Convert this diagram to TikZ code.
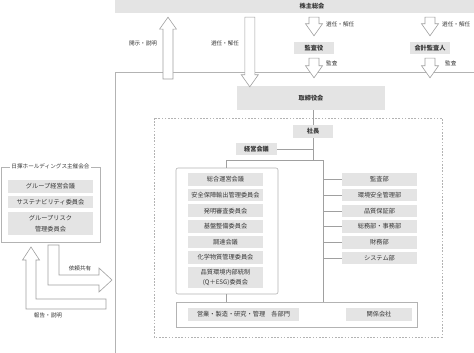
\documentclass[tikz,border=0pt]{standalone}
\usepackage{fontspec}
\setmainfont{Noto Sans CJK JP}
\usepackage{tikz}
\usetikzlibrary{calc,arrows.meta}
\definecolor{boxGray}{RGB}{228,228,228}
\definecolor{lineGray}{RGB}{160,160,160}
\definecolor{inkGray}{RGB}{55,55,55}

% hollow block arrows: shaft starts at #1, tip at #2
\newcommand{\hollowdown}[2]{%
  \draw[hollow] let \p1=(#1), \p2=(#2) in
    (\x2-5pt,\y1) -- (\x2+5pt,\y1) -- (\x2+5pt,\y2+12pt) -- (\x2+8.5pt,\y2+12pt)
    -- (\x2,\y2) -- (\x2-8.5pt,\y2+12pt) -- (\x2-5pt,\y2+12pt) -- cycle;}
\newcommand{\hollowup}[2]{%
  \draw[hollow] let \p1=(#1), \p2=(#2) in
    (\x2-5pt,\y1) -- (\x2+5pt,\y1) -- (\x2+5pt,\y2-12pt) -- (\x2+8.5pt,\y2-12pt)
    -- (\x2,\y2) -- (\x2-8.5pt,\y2-12pt) -- (\x2-5pt,\y2-12pt) -- cycle;}

\begin{document}
\begin{tikzpicture}[x=1pt,y=-1pt,
    unit/.style={fill=boxGray, inner sep=0pt, text=inkGray, align=center,
      font=\fontsize{6.2}{10.5}\selectfont},
    lead/.style={unit, font=\fontsize{6.2}{10.5}\selectfont\bfseries},
    frame/.style={draw=lineGray!80, line width=0.6pt},
    wire/.style={draw=lineGray, line width=0.8pt},
    hollow/.style={draw=lineGray, fill=white, line width=0.6pt},
    note/.style={text=inkGray, inner sep=1pt, font=\fontsize{5.6}{7}\selectfont},
    >=Stealth
  ]
  \useasboundingbox (0,0) rectangle (474,353);

  % company boundary and executive area
  \draw[frame] (115,353) -- (115,72) -- (474,72);
  \draw[frame, dash pattern=on 1.6pt off 1.6pt] (154,118) rectangle (442,337);

  % top level
  \node[lead, minimum width=394pt, minimum height=13pt] (kabunushi) at (312,6.5) {株主総会};
  \node[lead, minimum width=40pt, minimum height=12pt] (kansayaku) at (314,48) {監査役};
  \node[lead, minimum width=40pt, minimum height=12pt] (kaikei) at (430,48) {会計監査人};
  \node[lead, minimum width=148pt, minimum height=24pt] (torishimari) at (311,98) {取締役会};
  \node[lead, minimum width=40pt, minimum height=13pt] (shacho) at (313,131.5) {社長};
  \node[lead, minimum width=41pt, minimum height=12pt] (keiei) at (256.5,149) {経営会議};

  \coordinate (discl) at (168,79);
  \coordinate (elect) at ($(torishimari.north west)+(13,1)$);

  \hollowdown{$(kansayaku.north |- kabunushi.south)+(0,4)$}{$(kansayaku.north)+(0,-6)$}
  \hollowdown{$(kansayaku.south)+(0,4)$}{$(kansayaku.south |- torishimari.north)+(0,-8)$}
  \hollowdown{$(kaikei.north |- kabunushi.south)+(0,4)$}{$(kaikei.north)+(0,-6)$}
  \hollowdown{$(kaikei.south)+(0,4)$}{$(kaikei.south |- torishimari.north)+(0,-8)$}
  \hollowdown{$(elect |- kabunushi.south)+(0,4)$}{elect}
  \hollowup{discl}{$(discl |- kabunushi.south)+(0,4)$}

  \node[note] (lbl-disc) at (143,43) {開示・説明};
  \node[note] (lbl-elect) at (225,43) {選任・解任};
  \node[note, anchor=west] (lbl-ka1) at (325,24) {選任・解任};
  \node[note, anchor=west] (lbl-ka2) at (325,63) {監査};
  \node[note, anchor=west] (lbl-kk1) at (441,24) {選任・解任};
  \node[note, anchor=west] (lbl-kk2) at (444,63) {監査};

  % committees
  \node[frame, fill=white, rounded corners=2pt, minimum width=102pt, minimum height=126pt] (cmtframe) at (227,231) {};
  \foreach \name [count=\i] in {総合運営会議,安全保障輸出管理委員会,発明審査委員会,基盤整備委員会,調達会議,化学物質管理委員会}
    \node[unit, minimum width=75pt, minimum height=12.5pt] (cmt\i) at (225.5,{179.5+15.6*(\i-1)}) {\name};
  \node[unit, minimum width=75pt, minimum height=21pt] (cmt7) at (225.5,277.5) {品質環境内部統制\\(Q＋ESG)委員会};

  % operating units
  \node[frame, minimum width=241pt, minimum height=25pt] (base) at (296.5,314.5) {};
  \node[unit, minimum width=111pt, minimum height=13pt] (divisions) at (243.5,314.5) {営業・製造・研究・管理　各部門};
  \node[unit, minimum width=66pt, minimum height=13pt] (affiliates) at (379,314.5) {関係会社};

  % trunk
  \coordinate (trunk) at (323,160);
  \coordinate (leftdrop) at (226,160);
  \draw[wire] (torishimari.south -| shacho) -- (shacho.north);
  \draw[wire] (shacho.south) -- (shacho.south |- trunk);
  \draw[wire] (keiei.east) -- (keiei.east -| shacho.south);
  \draw[wire] (leftdrop |- cmtframe.north) -- (leftdrop) -- (trunk) -- (trunk |- base.north);
  \draw[wire] (cmtframe.south -| leftdrop) -- (base.north -| leftdrop);

  % departments
  \foreach \name [count=\i] in {監査部,環境安全管理部,品質保証部,総務部・事務部,財務部,システム部}{
    \node[unit, minimum width=75pt, minimum height=12.5pt] (dept\i) at (379.5,{179.5+15.7*(\i-1)}) {\name};
    \draw[wire] (dept\i.west) -- (dept\i.west -| trunk);
  }

  % group meetings
  \node[frame, minimum width=99pt, minimum height=75pt] (group) at (50.5,204.5) {};
  \node[note, fill=white, inner xsep=1.5pt] (grouptitle) at (group.north) {日揮ホールディングス主催会合};
  \node[unit, minimum width=85pt, minimum height=12.5pt] (gm1) at (50.5,186.5) {グループ経営会議};
  \node[unit, minimum width=85pt, minimum height=12.5pt] (gm2) at (50.5,202) {サステナビリティ委員会};
  \node[unit, minimum width=85pt, minimum height=23pt] (gm3) at (50.5,223.5) {グループリスク\\管理委員会};

  \draw[hollow] (48,245) -- (59,245) -- (59,275) -- (99,275) -- (99,268) -- (112,280)
    -- (99,292) -- (99,285) -- (48,285) -- cycle;
  \draw[hollow] (106,299) -- (106,309) -- (26,309) -- (26,260) -- (22.5,260) -- (31,247)
    -- (39.5,260) -- (36,260) -- (36,299) -- cycle;
  \node[note] (lbl-req) at (80,268) {依頼共有};
  \node[note] (lbl-rep) at (48,315) {報告・説明};
\end{tikzpicture}
\end{document}
